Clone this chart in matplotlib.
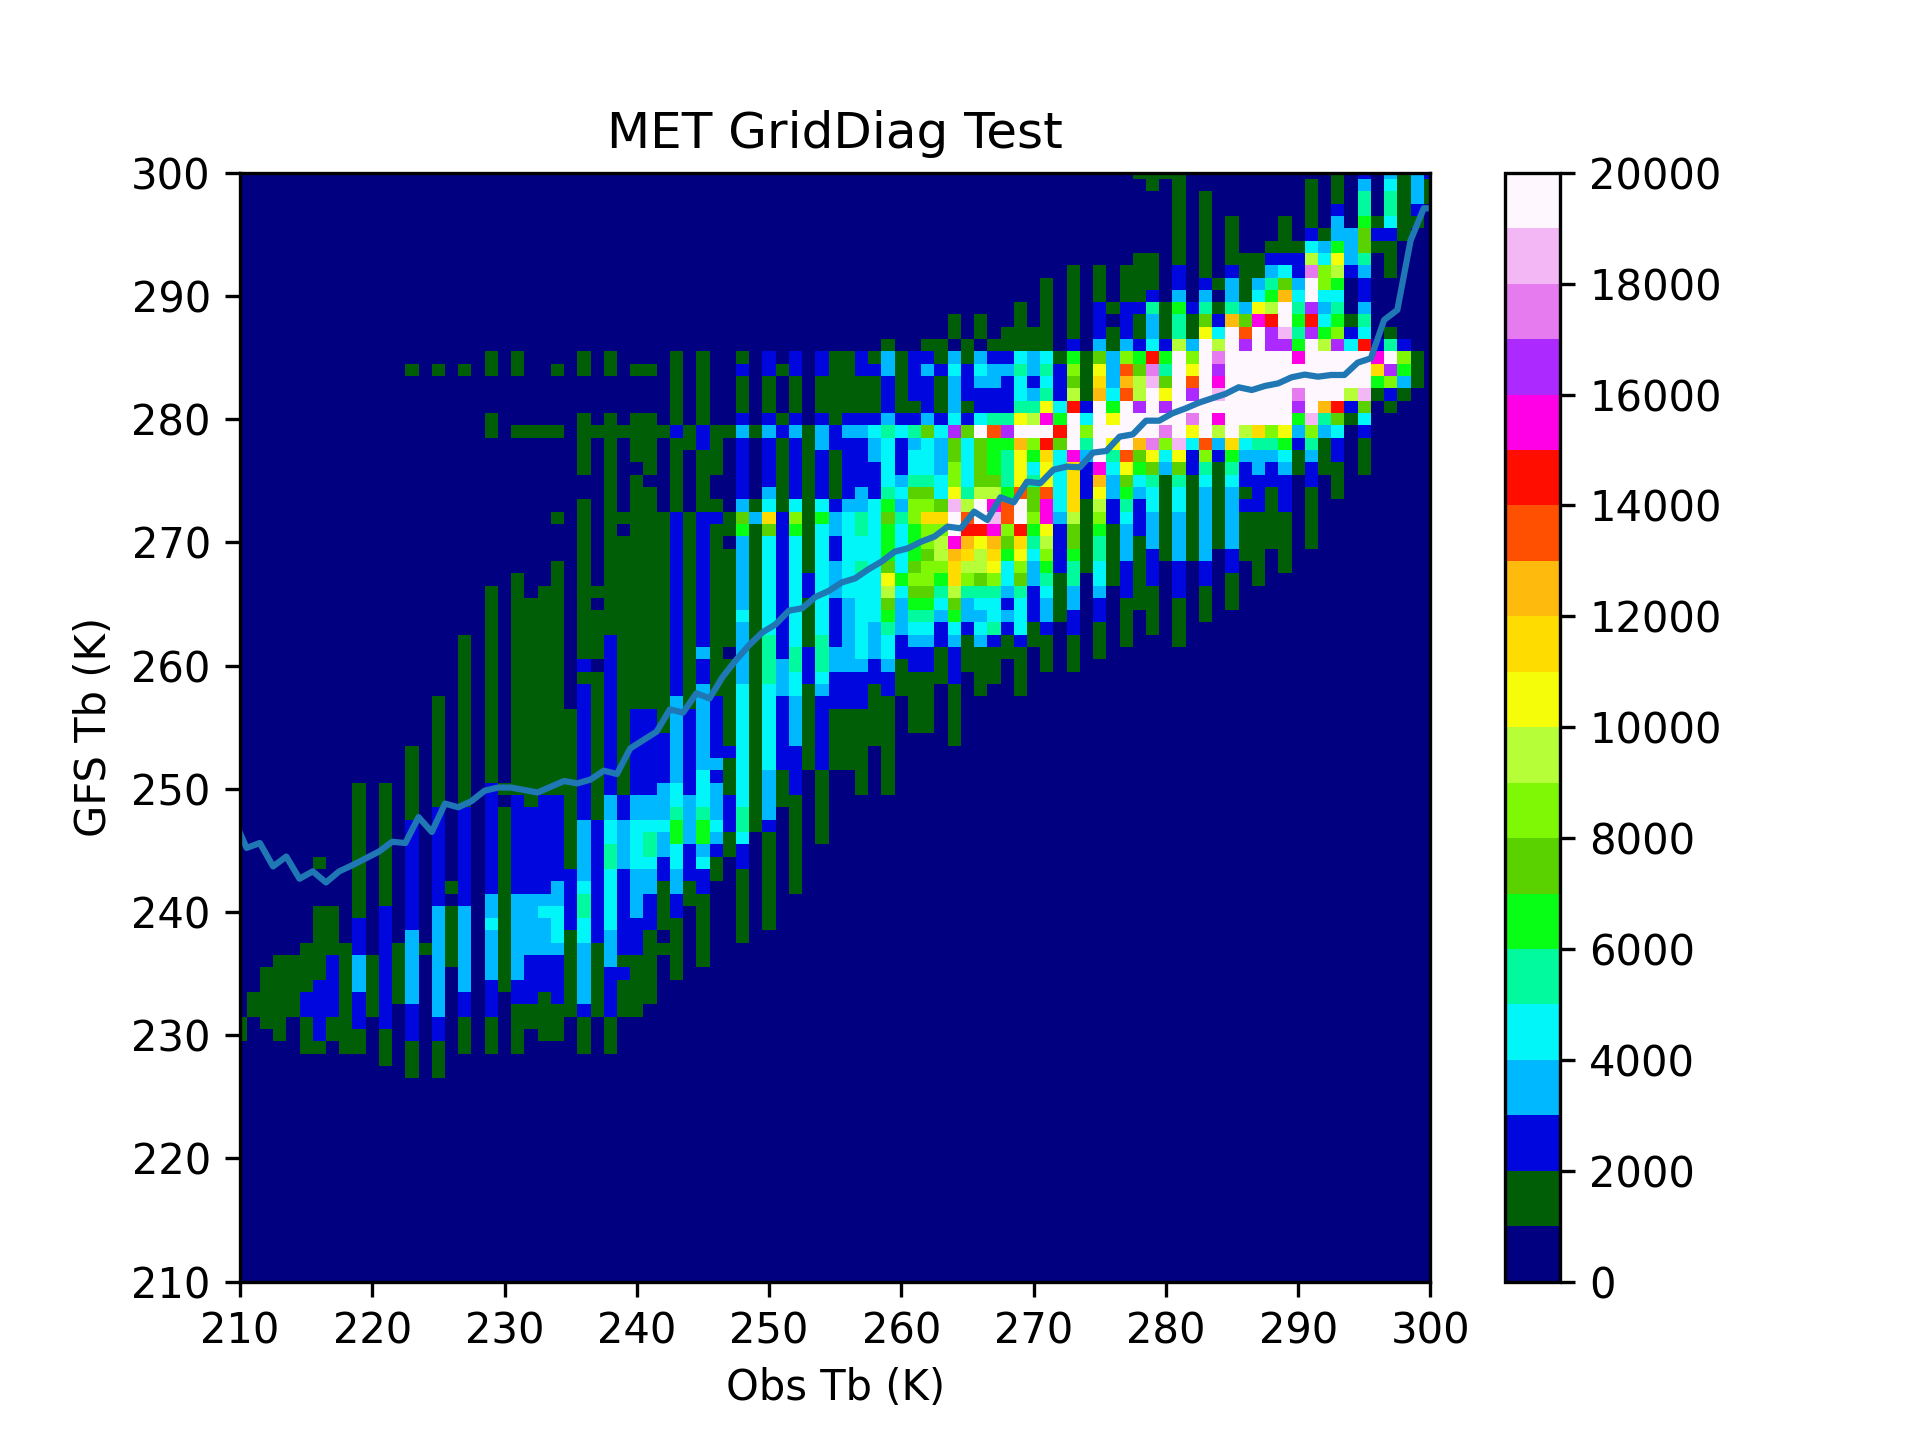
import numpy as np
import matplotlib
matplotlib.use("Agg")
import matplotlib.pyplot as plt
from matplotlib.colors import BoundaryNorm

TITLE = "MET GridDiag Test"
XLABEL = "Obs Tb (K)"
YLABEL = "GFS Tb (K)"
BIN_EDGES = list(range(0, 20001, 1000))
COUNT_TICKS = list(range(0, 20001, 2000))
AXIS_TICKS = list(range(210, 301, 10))
OBS_BINS = list(range(210, 301))
GFS_BINS = list(range(210, 301))
LEVEL_CODES = "0123456789abcdefghij"  # index = count / 1000

# Histogram levels, columns 271..300, by GFS bin
RIGHT_ROWS = {
    300: "0000000 1111 00000000000 10203132",
    299: "00000000 1 0 1 000000000 1010 3 0 4 1 3 1",
    298: "0000000000 1 0 1 0000000 1 0 1 0 5 0 5 1 3 1",
    297: "0000000000 1 0 1 0000000 1 0 2 0 5 0 5 1 2 0",
    296: "0000000000 10101 000 10 10 30 6 1 4 1 1 0",
    295: "0000000000 10101 000 10 2 1 3 3 7 2 2 1 0 0",
    294: "0000000000 10101 00 111 4 3 6 3 7 1 1 000",
    293: "0000000 11 0 1 0 1 0 111 222 94a35 0 1 000",
    292: "0010101110 2010 211 342 h89 23 01000",
    291: "1010101110 2021 313 573 j86 02 00000",
    290: "1010101120 3030 314 6c4 j44 02 00000",
    289: "1010212251 6251 53a 9j5 g35 03 00000",
    288: "1010202131 5172 c7f ej6 e46 15 00000",
    287: "1010212131 51a4 jdj gi5 g68 24 01000",
    286: "1020313242 93j9 jgj gg6 j9g 4e 25200",
    285: "41617386e6 j8jh jjj jjf jjj jj fj810",
    284: "5281a3d7h5 jajg jjj jjj jjj jj bg610",
    283: "4271b3c9i7 jdjf jjj jjj jjj jj 68310",
    282: "5291c4d9ja jgji jjj jjh jjj 9i 12100",
    281: "a4e2j6jgjg jjjj jjj jjg jce 27 01000",
    280: "f6j4jajjjj jhjf jjj jj6 i57 14 00000",
    279: "jej8jjjjjh jaj9 j9b 8a3 834 02 00000",
    278: "e7j5jajch8 i4d3 b45 562 512 01 00000",
    277: "b4f3j5d7a4 a282 633 341 312 01 00000",
    276: "a4b2f4a673 7251 523 231 211 01 00000",
    275: "a4b2c37451 5141 422 220 201 00 00000",
    274: "d4b2a36341 4131 312 120 101 00 00000",
    273: "f4b1925241 4131 322 120 100 00 00000",
    272: "f391824231 3131 311 110 100 00 00000",
    271: "a271613231 3131 311 110 100 00 00000",
    270: "9271513131 3131 311 110 100 00 00000",
    269: "8261513121 3130 211 010 000 00 00000",
    268: "6251412120 2020 201 010 000 00 00000",
    267: "5150412120 2020 101 000 000 00 00000",
    266: "4130302110 2010 100 000 000 00 00000",
    265: "3130201110 1010 100 000 000 00 00000",
    264: "3120201010 1010 000 000 000 00 00000",
    263: "2020101010 1000 000 000 000 00 00000",
    262: "1010101000 1000 000 000 000 00 00000",
    261: "1010100000 0000 000 000 000 00 00000",
    260: "1010000000 0000 000 000 000 00 00000",
}

# Histogram levels, columns 248..270, by GFS bin
MIDDLE_ROWS = {
    289: "00000000000 000000000010",
    288: "00000000000 000001010010",
    287: "00000000000 000001010111",
    286: "00000000000 100110101111",
    285: "10202021121 312213132243",
    284: "20212021122 312324243353",
    283: "10101011111 212213233242",
    282: "10101011111 212213222243",
    281: "10101011111 211213122255",
    280: "20212021222 3223242455a9",
    279: "31323132334 54574g7jdgjj",
    278: "20212132223 4234374766c8",
    277: "20212121223 4244374765a6",
    276: "20212121222 4244384765a4",
    275: "20212121222 4355484775a5",
    274: "20312121232 54774a5996d7",
    273: "31414142334 63887i9jfdj7",
    272: "73b28163454 758bbjdjidj8",
    271: "61726143454 64688jeef8e6",
    270: "31424142444 64689fcac7b5",
    269: "31424142444 64679cb9b6a4",
    268: "31424143454 74788b99a483",
    267: "31424243444 a6886b878473",
    266: "31424243444 947759555352",
    265: "31424142344 736647344242",
    264: "41424142344 635536334342",
    263: "31424142343 534424245241",
    262: "31524152343 423323132121",
    261: "31525253343 422212111110",
    260: "31535253332 312212111010",
    259: "31534242222 211112011010",
    258: "41434132221 211101010010",
    257: "41423122221 101101000000",
    256: "41423121111 101101000000",
    255: "41423121111 101101000000",
    254: "41423121111 100001000000",
    253: "41422121110 100000000000",
    252: "41422121110 100000000000",
    251: "41312010010 100000000000",
    250: "41312010010 100000000000",
    249: "41311010000 000000000000",
    248: "51301010000 000000000000",
    247: "51201010000 000000000000",
    246: "40101010000 000000000000",
    245: "20101000000 000000000000",
    244: "20101000000 000000000000",
    243: "10101000000 000000000000",
    242: "10101000000 000000000000",
    241: "10100000000 000000000000",
    240: "10100000000 000000000000",
    239: "10100000000 000000000000",
    238: "10000000000 000000000000",
}

# Histogram levels, columns 210..247: (top GFS bin, bottom GFS bin, level)
LEFT_COLUMNS = {
    210: [(231, 230, 1)],
    211: [(233, 232, 1)],
    212: [(235, 231, 1)],
    213: [(236, 230, 1)],
    214: [(236, 232, 1)],
    215: [(237, 234, 1), (233, 232, 2), (231, 229, 1)],
    216: [(244, 244, 1), (240, 235, 1), (234, 230, 2), (229, 229, 1)],
    217: [(240, 237, 1), (236, 232, 2), (231, 230, 1)],
    218: [(237, 229, 1)],
    219: [(250, 240, 1), (239, 237, 2), (236, 234, 3), (233, 231, 2), (230, 229, 1)],
    220: [(236, 232, 1)],
    221: [(250, 241, 1), (240, 231, 2), (230, 228, 1)],
    222: [(237, 233, 1)],
    223: [(284, 284, 1), (253, 248, 1), (247, 239, 2), (238, 233, 3), (232, 230, 2), (229, 227, 1)],
    224: [(237, 237, 1)],
    225: [(284, 284, 1), (257, 249, 1), (248, 241, 2), (240, 232, 3), (231, 230, 2), (229, 227, 1)],
    226: [(242, 242, 1), (240, 236, 1)],
    227: [(284, 284, 1), (262, 249, 1), (248, 241, 2), (240, 234, 3), (233, 232, 2), (231, 229, 1)],
    229: [(285, 284, 1), (280, 279, 1), (266, 251, 1), (250, 242, 2), (241, 240, 3), (239, 239, 4),
          (238, 235, 3), (234, 232, 2), (231, 229, 1)],
    230: [(250, 250, 1), (248, 234, 1)],
    231: [(285, 284, 1), (279, 279, 1), (267, 250, 1), (249, 242, 2), (241, 235, 3), (234, 233, 2), (232, 229, 1)],
    232: [(279, 279, 1), (265, 249, 1), (248, 242, 2), (241, 237, 3), (236, 233, 2), (232, 231, 1)],
    233: [(279, 279, 1), (266, 250, 1), (249, 242, 2), (241, 241, 3), (240, 240, 4), (239, 237, 3),
          (236, 234, 2), (233, 230, 1)],
    234: [(284, 284, 1), (279, 279, 1), (272, 272, 1), (268, 250, 1), (249, 243, 2), (242, 241, 3),
          (240, 238, 4), (237, 237, 3), (236, 233, 2), (232, 230, 1)],
    235: [(256, 244, 1), (243, 239, 2), (238, 232, 1)],
    236: [(285, 284, 1), (280, 276, 1), (273, 261, 1), (260, 260, 2), (259, 259, 1), (258, 248, 2),
          (247, 243, 3), (242, 242, 4), (241, 240, 5), (239, 238, 4), (237, 233, 3), (232, 232, 2), (231, 229, 1)],
    237: [(279, 279, 1), (266, 266, 1), (264, 261, 1), (259, 248, 1), (247, 238, 2), (237, 232, 1)],
    238: [(285, 284, 1), (280, 263, 1), (262, 250, 2), (249, 248, 3), (247, 246, 4), (245, 244, 5),
          (243, 239, 4), (238, 236, 3), (235, 232, 2), (231, 229, 1)],
    239: [(279, 279, 1), (272, 272, 1), (270, 250, 1), (249, 248, 2), (247, 244, 3), (243, 237, 2),
          (236, 236, 1), (235, 235, 2), (234, 232, 1)],
    240: [(284, 284, 1), (280, 277, 1), (275, 257, 1), (256, 250, 2), (249, 248, 3), (247, 244, 4),
          (243, 240, 3), (239, 237, 2), (236, 232, 1)],
    241: [(284, 284, 1), (280, 276, 1), (274, 257, 1), (256, 250, 2), (249, 248, 3), (247, 247, 4),
          (246, 245, 5), (244, 244, 4), (243, 242, 3), (241, 239, 2), (238, 233, 1)],
    242: [(279, 279, 1), (272, 255, 1), (254, 251, 2), (250, 248, 3), (247, 247, 4), (246, 245, 3),
          (244, 243, 2), (242, 239, 1), (237, 237, 1)],
    243: [(285, 280, 1), (279, 279, 2), (278, 273, 1), (272, 258, 2), (257, 251, 3), (250, 249, 4),
          (248, 248, 5), (247, 246, 6), (245, 244, 4), (243, 242, 3), (241, 240, 2), (239, 235, 1)],
    244: [(279, 278, 1), (272, 257, 1), (256, 250, 2), (249, 246, 3), (245, 243, 2), (242, 241, 1)],
    245: [(285, 280, 1), (279, 278, 2), (277, 273, 1), (272, 262, 2), (261, 261, 3), (260, 259, 2),
          (258, 252, 3), (251, 249, 4), (248, 248, 5), (247, 246, 6), (245, 245, 3), (244, 244, 4),
          (243, 242, 2), (241, 236, 1)],
    246: [(279, 276, 1), (273, 273, 1), (272, 272, 2), (271, 258, 1), (257, 253, 2), (252, 252, 3),
          (251, 251, 2), (250, 248, 3), (247, 247, 4), (246, 246, 3), (245, 245, 2), (244, 243, 1)],
    247: [(279, 279, 1), (272, 271, 1), (269, 262, 1), (260, 254, 1), (253, 253, 2), (252, 250, 1),
          (249, 247, 2), (246, 245, 1)],
}

# Mean GFS Tb per Obs Tb bin
LINE_OBS = [210.0] + [k + 0.5 for k in range(210, 300)] + [300.0]
LINE_GFS = [
    246.4, 245.2, 245.6, 243.7, 244.5, 242.7, 243.3, 242.4, 243.3, 243.8,
    244.35, 244.9, 245.7, 245.6, 247.7, 246.5, 248.8, 248.5, 249.0, 249.85,
    250.1, 250.1, 249.9, 249.7, 250.17, 250.63, 250.44, 250.75, 251.47, 251.2,
    253.28, 253.96, 254.64, 256.45, 256.18, 257.75, 257.34, 259.1, 260.45, 261.67,
    262.7, 263.35, 264.46, 264.65, 265.57, 266.05, 266.75, 267.08, 267.81, 268.44,
    269.25, 269.52, 270.06, 270.47, 271.28, 271.14, 272.5, 271.82, 273.66, 273.25,
    274.93, 274.8, 275.9, 276.15, 276.1, 277.29, 277.42, 278.58, 278.77, 279.88,
    279.88, 280.48, 280.88, 281.34, 281.7, 282.05, 282.59, 282.37, 282.7, 282.91,
    283.4, 283.62, 283.45, 283.59, 283.59, 284.59, 284.94, 288.05, 288.87, 294.5,
    297.12, 297.12,
]

x = np.array(OBS_BINS)
y = np.array(GFS_BINS)
levels = np.zeros((len(y), len(x)), dtype=int)

for gfs, text in RIGHT_ROWS.items():
    for i, ch in enumerate(text.replace(" ", "")[:30]):
        levels[gfs - 210, 61 + i] = LEVEL_CODES.index(ch)
for gfs, text in MIDDLE_ROWS.items():
    for i, ch in enumerate(text.replace(" ", "")[:23]):
        levels[gfs - 210, 38 + i] = LEVEL_CODES.index(ch)
for obs, runs in LEFT_COLUMNS.items():
    for top, bottom, lev in runs:
        levels[bottom - 210:top - 209, obs - 210] = lev
counts = levels * 1000 + 500

fig, ax = plt.subplots(figsize=(6.4, 4.8), dpi=300)
cmap = plt.get_cmap("gist_ncar")
norm = BoundaryNorm(BIN_EDGES, cmap.N)
mesh = ax.pcolormesh(x, y, counts, cmap=cmap, norm=norm, shading="nearest")
ax.plot(LINE_OBS, LINE_GFS)
ax.set_xlim(210, 300)
ax.set_ylim(210, 300)
ax.set_xticks(AXIS_TICKS)
ax.set_yticks(AXIS_TICKS)
ax.set_title(TITLE)
ax.set_xlabel(XLABEL, labelpad=3.4)
ax.set_ylabel(YLABEL)
cbar = fig.colorbar(mesh, ax=ax, ticks=COUNT_TICKS)
cbar.ax.minorticks_off()
fig.savefig("out.png", dpi=300)
